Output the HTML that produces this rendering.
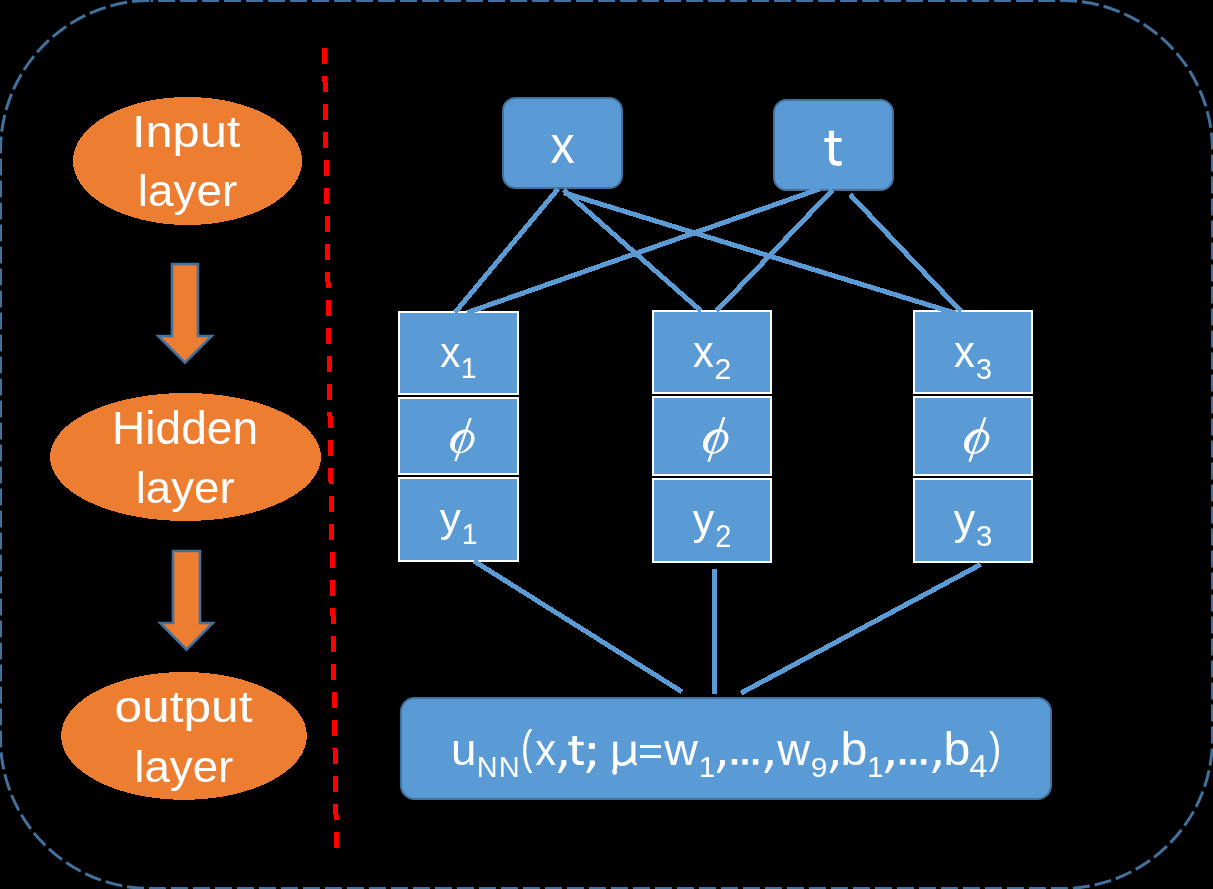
<!DOCTYPE html>
<html><head><meta charset="utf-8">
<style>
html,body{margin:0;padding:0;background:#000;width:1213px;height:889px;overflow:hidden}
svg{display:block;will-change:transform}
text{font-family:"Liberation Sans",sans-serif;fill:#fff}
</style></head>
<body>
<svg width="1213" height="889" viewBox="0 0 1213 889">
<rect x="0" y="0" width="1213" height="889" fill="#000"/>
<!-- outer dashed rounded rect -->
<rect x="0.5" y="0.5" width="1212" height="888" rx="150" ry="150" fill="none" stroke="#41719C" stroke-width="3" stroke-dasharray="17 5" stroke-dashoffset="-7.6"/>
<!-- red dashed divider -->
<line x1="324.5" y1="48" x2="336.5" y2="848" stroke="#FF0000" stroke-width="5" stroke-dasharray="16 12" shape-rendering="crispEdges"/>

<!-- ellipses -->
<ellipse cx="187.5" cy="161" rx="114.5" ry="64" fill="#ED7D31" shape-rendering="crispEdges"/>
<ellipse cx="185.5" cy="457" rx="135.5" ry="64" fill="#ED7D31" shape-rendering="crispEdges"/>
<ellipse cx="184" cy="735.9" rx="122.9" ry="63.9" fill="#ED7D31" shape-rendering="crispEdges"/>

<!-- arrows -->
<path d="M172,264 L198,264 L198,336 L211.8,336 L185,362.6 L158.2,336 L172,336 Z" fill="#ED7D31" stroke="#41719C" stroke-width="2.6"/>
<path d="M173,551 L200,551 L200,623 L212.8,623 L186.5,649.6 L160.2,623 L173,623 Z" fill="#ED7D31" stroke="#41719C" stroke-width="2.6"/>

<!-- ellipse texts -->







<!-- top input boxes -->
<rect x="503" y="98" width="119" height="90" rx="12.5" fill="#5B9BD5" stroke="#41719C" stroke-width="2"/>
<rect x="774" y="100" width="119" height="90" rx="12.5" fill="#5B9BD5" stroke="#41719C" stroke-width="2"/>



<!-- hidden columns -->
<g fill="#5B9BD5" stroke="#fff" stroke-width="2">
<rect x="399" y="312" width="119" height="82"/>
<rect x="399" y="398" width="119" height="76"/>
<rect x="399" y="478" width="119" height="83"/>
<rect x="653" y="311" width="118" height="82"/>
<rect x="653" y="397" width="118" height="78"/>
<rect x="653" y="479" width="118" height="83"/>
<rect x="914" y="311" width="118" height="82"/>
<rect x="914" y="397" width="118" height="78"/>
<rect x="914" y="479" width="118" height="83"/>
</g>

<!-- output box -->
<rect x="401" y="698" width="650" height="101" rx="13.5" fill="#5B9BD5" stroke="#41719C" stroke-width="2"/>

<!-- connection lines -->
<g stroke="#5B9BD5" stroke-width="5" stroke-linecap="butt" shape-rendering="crispEdges">
<line x1="558" y1="189" x2="455" y2="312.5"/>
<line x1="563.5" y1="190" x2="701" y2="311"/>
<line x1="564" y1="192.8" x2="956" y2="313.4"/>
<line x1="820" y1="188.8" x2="467" y2="312.7"/>
<line x1="832.5" y1="190" x2="716.5" y2="311"/>
<line x1="850" y1="194.4" x2="961" y2="311.5"/>
<line x1="474" y1="561" x2="681.8" y2="691.7"/>
<line x1="714.5" y1="569" x2="714.5" y2="694"/>
<line x1="980.6" y1="564.5" x2="741.2" y2="693"/>
</g>

<!-- phi -->
<g transform="translate(462.35,441.45) scale(0.96)">
<ellipse cx="0" cy="0" rx="14.1" ry="10.8" transform="rotate(-42.4)" fill="#fff"/>
<ellipse cx="0.6" cy="0.6" rx="11.5" ry="7.0" transform="translate(0.6,0.6) rotate(-57) translate(-0.6,-0.6)" fill="#5B9BD5"/>
<polygon points="7.2,-24.3 9.8,-24.3 -5.8,20.4 -8.4,20.4" fill="#fff"/>
</g>
<g transform="translate(715.7,441.3)">
<ellipse cx="0" cy="0" rx="14.1" ry="10.8" transform="rotate(-42.4)" fill="#fff"/>
<ellipse cx="0.6" cy="0.6" rx="11.5" ry="7.0" transform="translate(0.6,0.6) rotate(-57) translate(-0.6,-0.6)" fill="#5B9BD5"/>
<polygon points="7.2,-24.3 9.8,-24.3 -5.8,20.4 -8.4,20.4" fill="#fff"/>
</g>
<g transform="translate(976.7,441.45)">
<ellipse cx="0" cy="0" rx="14.1" ry="10.8" transform="rotate(-42.4)" fill="#fff"/>
<ellipse cx="0.6" cy="0.6" rx="11.5" ry="7.0" transform="translate(0.6,0.6) rotate(-57) translate(-0.6,-0.6)" fill="#5B9BD5"/>
<polygon points="7.2,-24.3 9.8,-24.3 -5.8,20.4 -8.4,20.4" fill="#fff"/>
</g>
<!-- hidden texts -->







<!-- texts -->
<g style="font-kerning:none">
<text transform="matrix(0.48811 0 0 0.45114 131.90 146.64)" font-size="100">Input</text>
<text transform="matrix(0.45836 0 0 0.45165 137.81 206.43)" font-size="100">layer</text>
<text transform="matrix(0.46096 0 0 0.46979 112.02 443.74)" font-size="100">Hidden</text>
<text transform="matrix(0.45644 0 0 0.44951 135.72 502.77)" font-size="100">layer</text>
<text transform="matrix(0.49690 0 0 0.43911 114.41 721.89)" font-size="100">output</text>
<text transform="matrix(0.45692 0 0 0.45165 134.32 781.63)" font-size="100">layer</text>
<text transform="matrix(0.48324 0 0 0.51673 550.56 163.10)" font-size="100">x</text>
<text transform="matrix(0.40165 0 0 0.42209 440.35 367.10)" font-size="100">x</text>
<text transform="matrix(0.28528 0 0 0.29506 460.73 378.00)" font-size="100">1</text>
<text transform="matrix(0.41629 0 0 0.43913 693.03 367.00)" font-size="100">x</text>
<text transform="matrix(0.30292 0 0 0.29646 714.58 378.70)" font-size="100">2</text>
<text transform="matrix(0.41629 0 0 0.43913 954.03 367.00)" font-size="100">x</text>
<text transform="matrix(0.28685 0 0 0.29519 975.91 378.61)" font-size="100">3</text>
<text transform="matrix(0.42372 0 0 0.40634 439.70 532.47)" font-size="100">y</text>
<text transform="matrix(0.28296 0 0 0.29506 461.64 544.10)" font-size="100">1</text>
<text transform="matrix(0.42978 0 0 0.42401 692.70 534.20)" font-size="100">y</text>
<text transform="matrix(0.28975 0 0 0.30505 715.34 547.00)" font-size="100">2</text>
<text transform="matrix(0.42978 0 0 0.42536 953.70 534.17)" font-size="100">y</text>
<text transform="matrix(0.29317 0 0 0.29096 975.98 546.42)" font-size="100">3</text>
<text transform="matrix(0.45668 0 0 0.44045 451.03 764.77)" font-size="100">u</text>
<text transform="matrix(0.28822 0 0 0.30088 476.64 776.70)" font-size="100">N</text>
<text transform="matrix(0.29001 0 0 0.30088 498.72 776.70)" font-size="100">N</text>
<text transform="matrix(0.34699 0 0 0.45618 520.95 763.06)" font-size="100">(</text>
<text transform="matrix(0.41839 0 0 0.43534 535.33 765.00)" font-size="100">x</text>
<text transform="matrix(0.43018 0 0 0.41581 637.90 764.68)" font-size="100">=</text>
<text transform="matrix(0.46552 0 0 0.44670 664.17 765.20)" font-size="100">w</text>
<text transform="matrix(0.29920 0 0 0.30378 698.82 777.00)" font-size="100">1</text>
<text transform="matrix(0.45450 0 0 0.44670 777.27 765.20)" font-size="100">w</text>
<text transform="matrix(0.30092 0 0 0.27118 810.69 776.74)" font-size="100">9</text>
<text transform="matrix(0.48254 0 0 0.46570 840.39 765.05)" font-size="100">b</text>
<text transform="matrix(0.29224 0 0 0.30378 867.17 777.00)" font-size="100">1</text>
<text transform="matrix(0.48254 0 0 0.46570 943.39 765.05)" font-size="100">b</text>
<text transform="matrix(0.32744 0 0 0.31832 969.25 776.90)" font-size="100">4</text>
<text transform="matrix(0.36585 0 0 0.45189 989.09 763.34)" font-size="100">)</text>
<path transform="matrix(0.89826 0 0 0.83143 -172.222 627.149)" d="M828.9,130.8 H834 V157.5 Q834,161.2 838,161.2 L841.6,160.9 V165.5 Q839.5,165.9 837.5,165.9 Q828.9,165.9 828.9,157.5 Z M824.4,137.9 H841.6 V142 H824.4 Z" fill="#fff"/>
<rect x="588.8" y="742.9" width="6.2" height="6.2" rx="1.4" fill="#fff"/>
<polygon points="589.74,760.40 595.00,760.40 595.00,764.81 589.39,773.00 586.00,773.00 589.60,764.81" fill="#fff"/>
<polygon points="561.37,759.95 566.40,759.95 566.40,764.50 561.04,772.95 557.80,772.95 561.24,764.50" fill="#fff"/>
<polygon points="720.10,759.95 724.90,759.95 724.90,764.50 719.79,772.95 716.70,772.95 719.98,764.50" fill="#fff"/>
<polygon points="767.69,759.95 772.60,759.95 772.60,764.50 767.37,772.95 764.20,772.95 767.56,764.50" fill="#fff"/>
<polygon points="832.99,759.95 837.90,759.95 837.90,764.50 832.67,772.95 829.50,772.95 832.86,764.50" fill="#fff"/>
<polygon points="888.45,759.95 893.60,759.95 893.60,764.50 888.12,772.95 884.80,772.95 888.32,764.50" fill="#fff"/>
<polygon points="935.57,759.95 940.60,759.95 940.60,764.50 935.24,772.95 932.00,772.95 935.44,764.50" fill="#fff"/>
<rect x="731.70" y="759.0" width="5.5" height="5.8" rx="0.8" fill="#fff"/>
<rect x="742.25" y="759.0" width="5.5" height="5.8" rx="0.8" fill="#fff"/>
<rect x="752.80" y="759.0" width="5.5" height="5.8" rx="0.8" fill="#fff"/>
<rect x="899.80" y="759.0" width="5.5" height="5.8" rx="0.8" fill="#fff"/>
<rect x="910.35" y="759.0" width="5.5" height="5.8" rx="0.8" fill="#fff"/>
<rect x="920.90" y="759.0" width="5.5" height="5.8" rx="0.8" fill="#fff"/>
<path d="M828.9,130.8 H834 V157.5 Q834,161.2 838,161.2 L841.6,160.9 V165.5 Q839.5,165.9 837.5,165.9 Q828.9,165.9 828.9,157.5 Z M824.4,137.9 H841.6 V142 H824.4 Z" fill="#fff"/>
<g stroke="#fff" fill="none">
<line x1="615.2" y1="741.6" x2="615.2" y2="769" stroke-width="4"/>
<path d="M615.1,755 C615.1,762.5 618,764.2 622.5,764.2 C626.5,764.2 630,761.5 633.3,756" stroke-width="3.6"/>
<line x1="633.4" y1="741.6" x2="633.4" y2="762.5" stroke-width="4"/>
<path d="M633.3,761 Q633.8,764.6 636.8,764" stroke-width="2.5"/>
</g>
<ellipse cx="614.6" cy="771.6" rx="2.4" ry="3.2" fill="#fff"/>
</g>

</svg>
</body></html>
